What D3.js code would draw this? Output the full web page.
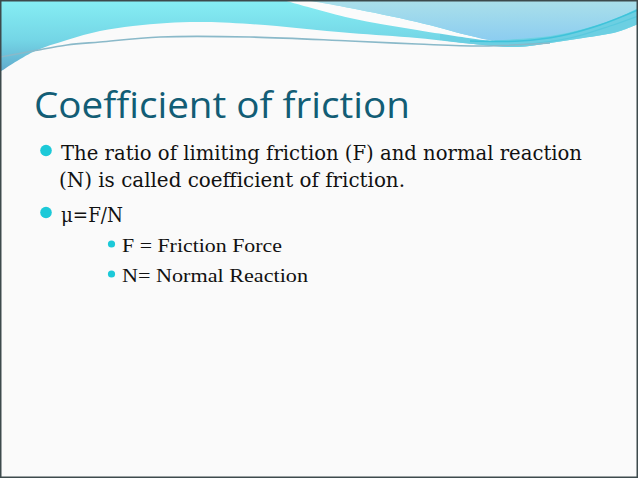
<!DOCTYPE html>
<html>
<head>
<meta charset="utf-8">
<script src="https://cdn.jsdelivr.net/npm/d3@7"></script>
<style>
  html, body { margin: 0; padding: 0; background: #fafafa; }
  svg { display: block; }
</style>
</head>
<body>
<svg id="slide" width="638" height="478"></svg>
<script>
// ---- slide content ----
const titleText = "Coefficient of friction";
const bulletTexts = [
  "The ratio of limiting friction (F) and normal reaction",
  "(N) is called coefficient of friction.",
  "μ=F/N",
  "F = Friction Force",
  "N= Normal Reaction"
];
const bulletLevels = [1, 0, 1, 2, 2];   // 1 = main bullet, 0 = continuation, 2 = sub bullet

const W = 638, H = 478;
const svg = d3.select("#slide");
const defs = svg.append("defs");

// background
svg.append("rect").attr("width", W).attr("height", H).attr("fill", "#fafafa");

// gradients
const g1 = defs.append("linearGradient").attr("id", "cyan").attr("x1", 0).attr("y1", 0).attr("x2", 0).attr("y2", 1);
g1.append("stop").attr("offset", "0%").attr("stop-color", "#86eef4");
g1.append("stop").attr("offset", "55%").attr("stop-color", "#74d6e6");
g1.append("stop").attr("offset", "100%").attr("stop-color", "#5fa9cb");
const g2 = defs.append("linearGradient").attr("id", "lblue").attr("x1", 0).attr("y1", 0).attr("x2", 0).attr("y2", 1);
g2.append("stop").attr("offset", "0%").attr("stop-color", "#abe0ea");
g2.append("stop").attr("offset", "100%").attr("stop-color", "#8ccdf0");

const curve = d3.line().curve(d3.curveCatmullRom.alpha(0.5));

// main cyan wave
const cyanBottom = [[638,24],[617,32],[583,38],[550,43],[517,47],[483,45],[417,38],[350,33],[250,24],[200,22],[167,23],[133,26],[100,31],[67,40],[33,52],[0,72]];
svg.append("path")
  .attr("d", "M0,0 L638,0 " + curve(cyanBottom).replace(/^M/, "L") + " Z")
  .attr("fill", "url(#cyan)");

// darker band on the right
const bandTop = [[440,34],[490,40],[517,39],[550,36],[583,29],[617,18],[638,8]];
const bandBottom = [[638,24],[617,32],[583,38],[550,43],[517,47],[483,45],[440,40]];
svg.append("path")
  .attr("d", curve(bandTop) + curve(bandBottom).replace(/^M/, "L") + " Z")
  .attr("fill", "#6ccfe2");

// white stripe
const stripeUpper = [[283,0],[305,0],[350,8],[417,22],[467,35],[495,41]];
const stripeLower = [[495,41],[483,40],[417,30],[350,18],[283,0]];
svg.append("path")
  .attr("d", curve(stripeUpper) + curve(stripeLower).replace(/^M/, "L") + " Z")
  .attr("fill", "#fbfbfb");

// light blue region
const lbEdge = [[638,8],[617,18],[583,29],[550,36],[517,39],[490,40],[467,35],[417,22],[350,8],[305,0]];
svg.append("path")
  .attr("d", "M305,0 L638,0 " + curve(lbEdge).replace(/^M/, "L") + " Z")
  .attr("fill", "url(#lblue)");

// bright accents on right
svg.append("path")
  .attr("d", curve([[470,41],[520,41],[560,36],[600,25],[638,10]]))
  .attr("fill", "none").attr("stroke", "#3fc3da").attr("stroke-width", 1.5);
svg.append("path")
  .attr("d", curve([[520,45],[570,38],[610,26],[638,16]]))
  .attr("fill", "none").attr("stroke", "#59c9de").attr("stroke-width", 1.2);

// thin line
const thin = [[0,57],[33,51],[67,45],[100,42],[160,37],[250,37],[350,41],[417,44],[483,46],[550,43]];
svg.append("path")
  .attr("d", curve(thin))
  .attr("fill", "none").attr("stroke", "#8ab9c9").attr("stroke-width", 1.6);

// border
svg.append("rect").attr("x", 0.75).attr("y", 0.75).attr("width", W - 1.5).attr("height", H - 1.5)
  .attr("fill", "none").attr("stroke", "#3d4a4c").attr("stroke-width", 1.5);

// title
svg.append("text")
  .attr("x", 34).attr("y", 118)
  .attr("font-family", "'Open Sans', sans-serif")
  .attr("font-size", 37)
  .attr("fill", "#125d75")
  .attr("textLength", 376).attr("lengthAdjust", "spacingAndGlyphs")
  .text(titleText);

// bullet layout
const textX = {1: 61, 0: 59, 2: 122};
const widths = [521, 346, 62, 160, 186];
const fontSizes = {1: 19.5, 0: 19.5, 2: 19};
const fonts = {1: "'DejaVu Serif', serif", 0: "'DejaVu Serif', serif", 2: "'Liberation Serif', serif"};
const baselines = [160, 187, 222, 252, 282];

bulletTexts.forEach((t, i) => {
  const lvl = bulletLevels[i];
  const y = baselines[i];
  svg.append("text")
    .attr("x", textX[lvl]).attr("y", y)
    .attr("font-family", fonts[lvl])
    .attr("font-size", fontSizes[lvl])
    .attr("fill", "#111")
    .attr("textLength", widths[i]).attr("lengthAdjust", "spacingAndGlyphs")
    .text(t);
  if (lvl === 1) {
    svg.append("circle").attr("cx", 46).attr("cy", y - 9.5).attr("r", 5.8).attr("fill", "#1cc9d8");
  } else if (lvl === 2) {
    svg.append("circle").attr("cx", 111.5).attr("cy", y - 8).attr("r", 3.6).attr("fill", "#1cc9d8");
  }
});
</script>
</body>
</html>
